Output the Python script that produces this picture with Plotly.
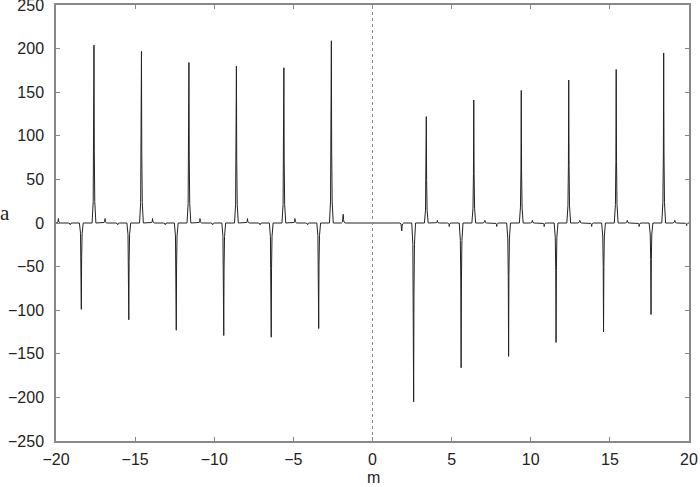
import plotly.graph_objects as go

# peak positions (m) and heights (a)
peak_m = [-19.85, -19.1, -18.4, -17.6, -16.9, -16.1, -15.4, -14.6, -13.9, -13.1,
          -12.4, -11.6, -10.9, -10.1, -9.4, -8.6, -7.9, -7.1, -6.4, -5.6,
          -4.9, -4.1, -3.4, -2.6, -1.85,
          1.85, 2.6, 3.4, 4.1, 4.85, 5.6, 6.4, 7.1, 7.85, 8.6,
          9.4, 10.1, 10.85, 11.6, 12.4, 13.1, 13.85, 14.6, 15.4, 16.1,
          16.85, 17.6, 18.4, 19.1, 19.85]
peak_a = [5, -2, -99, 204, 5, -2, -111, 197, 5, -2,
          -123, 184, 5, -2, -129, 180, 5, -2, -131, 178,
          5, -2, -121, 209, 10,
          -9, -205, 122, 3, -4, -166, 141, 3, -4, -153,
          152, 3, -4, -137, 164, 3, -4, -125, 176, 3,
          -4, -105, 195, 3, -3]

x_range = [-20, 20]
y_range = [-250, 250]
x_ticks = [-20, -15, -10, -5, 0, 5, 10, 15, 20]
y_ticks = [-250, -200, -150, -100, -50, 0, 50, 100, 150, 200, 250]

# narrow peak profile
offs = [-0.12, -0.05, -0.02, 0, 0.02, 0.05, 0.12]
frac = [0, 0.12, 0.4, 1, 0.4, 0.12, 0]

xs = [x_range[0]]
ys = [0]
for m, a in zip(peak_m, peak_a):
    for o, f in zip(offs, frac):
        xs.append(m + o)
        ys.append(a * f)
xs.append(x_range[1])
ys.append(0)

fig = go.Figure()
fig.add_trace(go.Scatter(x=xs, y=ys, mode='lines',
                         line=dict(color='#222222', width=1),
                         hoverinfo='skip', showlegend=False))

# dotted line at m = 0
fig.add_shape(type='line', x0=0, x1=0, y0=y_range[0], y1=y_range[1],
              xref='x', yref='y', line=dict(color='#888888', width=1, dash='dot'))

axis_common = dict(showgrid=False, zeroline=False, showline=True, mirror='ticks',
                   linecolor='#888888', linewidth=1.5, ticks='inside', ticklen=4,
                   tickcolor='#888888', tickwidth=1, automargin=False,
                   ticklabeloverflow='allow',
                   tickfont=dict(family='Liberation Sans, Arial', size=16, color='#222222'))

fig.update_xaxes(range=x_range, tickvals=x_ticks, ticklabelstandoff=3, **axis_common)
fig.update_yaxes(range=y_range, tickvals=y_ticks, ticklabelstandoff=7, **axis_common)

fig.update_layout(
    width=700, height=487,
    margin=dict(l=56, r=11, t=5, b=46),
    plot_bgcolor='white', paper_bgcolor='white',
    annotations=[
        dict(text='a', xref='paper', yref='paper', x=-0.081, y=0.523,
             xanchor='center', yanchor='middle', showarrow=False,
             font=dict(family='Liberation Serif, Times New Roman', size=21, color='#222222')),
        dict(text='m', xref='paper', yref='paper', x=0.502, y=-0.083,
             xanchor='center', yanchor='middle', showarrow=False,
             font=dict(family='Liberation Sans, Arial', size=16, color='#222222')),
    ],
)

fig.write_html('out.html', config={'displayModeBar': False},
               post_script="document.body.style.margin='0';")
